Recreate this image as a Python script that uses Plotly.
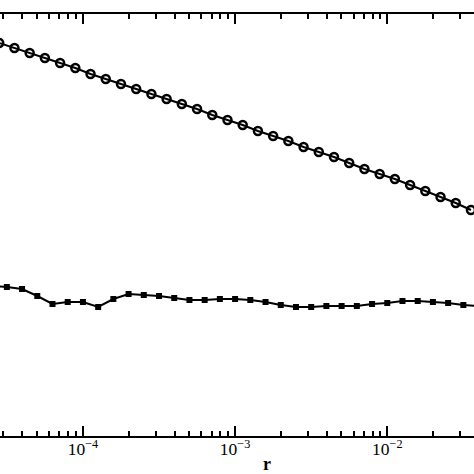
import plotly.graph_objects as go

# log10(r) positions
logr_circles = [-4.55 + 0.1 * i for i in range(32)]
logr_squares = [-4.6 + 0.1 * i for i in range(33)]

# values (arbitrary units)
circle_vals = [3.93, 3.88, 3.83, 3.78, 3.73, 3.68, 3.62, 3.57, 3.52, 3.47,
               3.42, 3.37, 3.32, 3.27, 3.21, 3.16, 3.11, 3.05, 3.00, 2.95,
               2.89, 2.84, 2.79, 2.73, 2.67, 2.62, 2.57, 2.51, 2.45, 2.39,
               2.33, 2.26]
square_vals = [1.50, 1.49, 1.47, 1.40, 1.32, 1.34, 1.34, 1.29, 1.37, 1.42,
               1.41, 1.40, 1.38, 1.36, 1.36, 1.37, 1.37, 1.36, 1.34, 1.31,
               1.29, 1.29, 1.30, 1.30, 1.30, 1.32, 1.33, 1.35, 1.35, 1.34,
               1.33, 1.31, 1.30]
x_title = "r"

r_circles = [10 ** v for v in logr_circles]
r_squares = [10 ** v for v in logr_squares]

fig = go.Figure()
fig.add_trace(go.Scatter(
    x=r_circles, y=circle_vals, mode="lines+markers",
    line=dict(color="black", width=2),
    marker=dict(symbol="circle-open", size=8, color="black", line=dict(width=2.5)),
    showlegend=False))
fig.add_trace(go.Scatter(
    x=r_squares, y=square_vals, mode="lines+markers",
    line=dict(color="black", width=2),
    marker=dict(symbol="square", size=6, color="black"),
    showlegend=False))

fig.update_layout(
    width=474, height=474,
    margin=dict(l=0, r=0, t=14, b=38, autoexpand=False),
    paper_bgcolor="white", plot_bgcolor="white",
    font=dict(family="Liberation Serif", color="black", size=14),
    xaxis=dict(
        type="log", range=[-4.545, -1.430],
        tickmode="linear", tick0=0, dtick=1,
        exponentformat="power", showexponent="all",
        ticks="inside", ticklen=10, tickwidth=1.5, tickcolor="black",
        ticklabelstandoff=-3,
        minor=dict(ticks="inside", ticklen=5, tickwidth=1.5, tickcolor="black", dtick="D1"),
        showline=True, linecolor="black", linewidth=1.5, mirror="ticks",
        showgrid=False, zeroline=False, automargin=False,
    ),
    yaxis=dict(
        range=[0, 4.22], showticklabels=False, ticks="", showline=False,
        showgrid=False, zeroline=False,
    ),
    annotations=[dict(
        text="<b>" + x_title + "</b>", xref="paper", yref="paper",
        x=0.563, y=-0.066, xanchor="center", yanchor="middle", showarrow=False,
        font=dict(size=18, family="Liberation Serif", color="black"),
    )],
)

fig.write_html("out.html", config={"displayModeBar": False},
               post_script="document.body.style.margin='0';document.body.style.overflow='hidden';")
